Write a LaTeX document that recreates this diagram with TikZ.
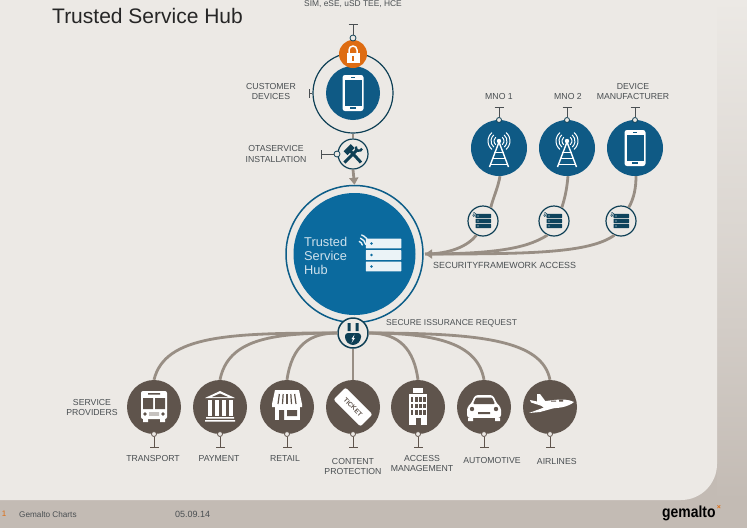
\documentclass[tikz,border=0pt]{standalone}
\usepackage{fontspec}
\setmainfont{Liberation Sans}
\usetikzlibrary{arrows.meta}

\definecolor{panelgrey}{HTML}{ECE9E5}
\definecolor{footgrey}{HTML}{C3BBB4}
\definecolor{darkblue}{HTML}{0F5A85}
\definecolor{hubblue}{HTML}{0B6A9E}
\definecolor{ringblue}{HTML}{0E3F55}
\definecolor{linkgrey}{HTML}{988E84}
\definecolor{brownish}{HTML}{5F544C}
\definecolor{lockorange}{HTML}{DE6C12}
\definecolor{labelgrey}{HTML}{4A4F52}

\tikzset{
  disc/.style={circle,inner sep=0,minimum size=#1},
  ringnode/.style={disc=#1,draw=ringblue,line width=1.2pt,fill=panelgrey},
  pinnode/.style={disc=6pt,draw=ringblue,line width=0.8pt,fill=panelgrey},
  tick/.style={draw=labelgrey,line width=0.8pt,{Bar[width=9pt,line width=0.8pt]}-},
  link/.style={draw=linkgrey,line width=2.8pt},
  label/.style={font=\fontsize{8.7}{10}\selectfont,text=labelgrey,align=center,inner sep=0},
}

\newcommand{\phoneicon}[2]{
  \begin{scope}[shift={(#1)}]
    \fill[white,rounded corners=2.5] (-10.5,-18) rectangle (10.5,18);
    \fill[#2] (-8.5,-13) rectangle (8.5,12.5);
    \fill[#2] (-3,14.2) rectangle (3,16);
    \fill[#2] (-2,-16) rectangle (2,-15);
  \end{scope}
}
\newcommand{\towericon}[1]{
  \begin{scope}[shift={(#1)},white,line width=1pt]
    \fill (0,-7) circle (2.2);
    \draw[line width=1.4pt] (9.5,19) -- (0,-6) -- (-9.5,19);
    \draw (-5,4) -- (5,4) (-6.5,10) -- (6.5,10) (-9,16) -- (9,16);
    \foreach \r in {5,8,11}
    {
      \draw (0,-7) ++(-50:\r) arc[start angle=-50,end angle=50,radius=\r];
      \draw (0,-7) ++(130:\r) arc[start angle=130,end angle=230,radius=\r];
    }
  \end{scope}
}
\newcommand{\servericon}[4]{
  \begin{scope}[shift={(#1)},scale=#2]
    \foreach \y in {-5,0,5}
    {
      \fill[#3,rounded corners=0.5] (-7.5,\y-2.1) rectangle (8,\y+2.1);
      \fill[#4] (-5,\y) circle (0.6);
    }
    \foreach \r in {2,3.5,5}
      \draw[#3,line width=0.6pt*#2,line cap=round] (-11,-4) ++(-70:\r) arc[start angle=-70,end angle=-10,radius=\r];
  \end{scope}
}

\begin{document}
\begin{tikzpicture}[x=1pt,y=-1pt]
  \useasboundingbox (0,0) rectangle (747,528);

  % page behind the panel
  \fill[footgrey] (0,0) rectangle (747,528);
  \shade[top color=panelgrey,bottom color=footgrey,middle color=footgrey!45!panelgrey] (717,0) rectangle (747,500);
  \fill[panelgrey] (0,0) -- (717,0) [rounded corners=36] -- (717,500) [sharp corners] -- (0,500) -- cycle;

  \node[font=\fontsize{21}{24}\selectfont,text=black!85,anchor=west,inner sep=0] (title) at (52,16) {Trusted Service Hub};

  % customer side
  \node[label,font=\fontsize{8.4}{10}\selectfont] (simlabel) at (353,4) {SIM, eSE, uSD TEE, HCE};
  \node[ringnode=80pt] (custring) at (353,93) {};
  \node[disc=54pt,fill=darkblue] (cust) at (353,93) {};
  \node[disc=28pt,fill=lockorange] (lock) at (353,54) {};
  \node[pinnode] (lockpin) at (353,38) {};
  \coordinate (locktop) at (353,24);
  \draw[tick] (locktop) -- (lockpin);
  \phoneicon{cust}{darkblue}
  \begin{scope}[shift={(lock)},white]
    \fill (-6.5,-1) rectangle (6.5,9);
    \draw[line width=1.5pt] (-4,-1) -- (-4,-4) arc[start angle=180,end angle=360,radius=4] -- (4,-1);
    \fill[lockorange] (-1.2,2) rectangle (1.2,6.5);
  \end{scope}
  \node[label] (custlabel) at (271,92) {CUSTOMER\\DEVICES};
  \coordinate (custtick) at (309,93);
  \draw[tick] (custtick) -- (custring.west);

  \node[ringnode=30pt] (ota) at (353,154) {};
  \node[pinnode] (otapin) at (337,154) {};
  \coordinate (otatick) at (321,154);
  \draw[tick] (otatick) -- (otapin);
  \node[label] (otalabel) at (276,154) {OTASERVICE\\INSTALLATION};
  \begin{scope}[shift={(ota)},ringblue]
    % hammer and wrench
    \draw[line width=3pt] (8,8.5) -- (-3,-3.5);
    \fill[rotate around={45:(-3,-3.5)}] (-8,-7.5) rectangle (2,-2);
    \draw[line width=3pt] (-8.5,8.5) -- (4.5,-4.5);
    \draw[line width=2.4pt] (3,-7.5) arc[start angle=200,end angle=20,radius=3.2];
  \end{scope}

  % hub
  \node[ringnode=137pt,draw=hubblue!70!ringblue,line width=1.5pt] (hubring) at (354.5,254) {};
  \node[disc=122pt,fill=hubblue] (hub) at (354.5,254) {};
  \node[font=\fontsize{12.8}{14}\selectfont,text=white!80!hubblue,align=left,anchor=west,inner sep=0] (hublabel) at (304,256) {Trusted\\Service\\Hub};
  \servericon{383,255}{2.3}{white!92!hubblue}{hubblue}
  \node[ringnode=30pt,line width=1.5pt] (plug) at (353,333) {};
  \node[label,font=\fontsize{8.5}{10}\selectfont,anchor=west] (securelabel) at (386,323) {SECURE ISSURANCE REQUEST};
  \begin{scope}[shift={(plug)},ringblue]
    \fill (-5.5,-10) rectangle (-2.5,-2) (2.5,-10) rectangle (5.5,-2);
    \fill[rounded corners=3] (-8,0) -- (8,0) -- (8,7) -- (3,12) -- (-3,12) -- (-8,7) -- cycle;
    \fill[white] (1.5,1.5) -- (-1.5,6) -- (0,6) -- (-1.5,10) -- (2,5) -- (0.5,5) -- cycle;
  \end{scope}
  \draw[link,-{Triangle[length=7pt,width=9pt]}] (ota.south) -- (hubring.north);
  \draw[link] (custring.south) -- (ota.north);

  % operators
  \foreach \x/\lx/\nm/\txt/\ly in {
      499/499/mnoa/{MNO 1}/97,
      567/568/mnob/{MNO 2}/97,
      635/633/devm/{DEVICE\\MANUFACTURER}/92
    }
  {
    \node[disc=56pt,fill=darkblue] (\nm) at (\x,148) {};
    \node[pinnode,disc=5pt] (\nm pin) at (\x,120) {};
    \coordinate (\nm tick) at (\x,107);
    \draw[tick] (\nm tick) -- (\nm pin);
    \node[label] (\nm label) at (\lx,\ly) {\txt};
  }
  \towericon{mnoa}
  \towericon{mnob}
  \phoneicon{devm}{darkblue}
  \foreach \x/\nm in {483/srva,554/srvb,621/srvc}
  {
    \node[ringnode=30pt] (\nm) at (\x,221) {};
    \servericon{\nm}{1}{ringblue!85!darkblue}{white}
  }
  \coordinate (hubin) at (425,254);
  \draw[link] (mnoa.272) .. controls (498,188) and (493,198) .. (srva.60);
  \draw[link] (mnob.272) .. controls (567,188) and (565,198) .. (srvb.60);
  \draw[link] (devm.272) .. controls (636,188) and (634,198) .. (srvc.60);
  \draw[link] (srva.245) .. controls (468,246) and (450,254) .. (hubin);
  \draw[link] (srvb.245) .. controls (530,246) and (505,254) .. (hubin);
  \draw[link,-{Triangle[length=7pt,width=9pt]}] (srvc.245) .. controls (590,253) and (530,254) .. (hubin);
  \node[label,font=\fontsize{8.9}{10}\selectfont,anchor=west] (seclabel) at (433,265) {SECURITYFRAMEWORK ACCESS};

  % service providers
  \node[label] (provlabel) at (92,407) {SERVICE\\PROVIDERS};
  \foreach \x/\nm/\lx/\ly/\txt in {
      154/transport/153/458/TRANSPORT,
      220/payment/219/458/PAYMENT,
      287/retail/285/458/RETAIL,
      353/content/353/466/{CONTENT\\PROTECTION},
      418/access/422/463/{ACCESS\\MANAGEMENT},
      484/auto/492/460/AUTOMOTIVE,
      550/air/558/461/AIRLINES
    }
  {
    \node[disc=54pt,fill=brownish] (\nm) at (\x,407) {};
    \node[pinnode,disc=5pt,draw=brownish] (\nm pin) at (\x,434) {};
    \coordinate (\nm tick) at (\x,448);
    \draw[tick,draw=brownish] (\nm tick) -- (\nm pin);
    \node[label] (\nm label) at (\lx,\ly) {\txt};
  }
  \draw[link] (plug.west) .. controls (230,333) and (165,335) .. (transport.north);
  \draw[link] (plug.west) .. controls (270,333) and (228,340) .. (payment.north);
  \draw[link] (plug.west) .. controls (310,333) and (292,345) .. (retail.north);
  \draw[link] (plug.south) -- (content.north);
  \draw[link] (plug.east) .. controls (400,333) and (414,350) .. (access.north);
  \draw[link] (plug.east) .. controls (440,333) and (478,345) .. (auto.north);
  \draw[link] (plug.east) .. controls (480,333) and (542,340) .. (air.north);

  % bus
  \begin{scope}[shift={(transport)}]
    \fill[white,rounded corners=2] (-13,-16) rectangle (13,12);
    \fill[white] (-11,12) rectangle (-6,15) (6,12) rectangle (11,15);
    \fill[brownish] (-11,-9) rectangle (-1,2) (1,-9) rectangle (11,2) (-6,-14) rectangle (6,-12.5);
    \fill[brownish] (-9,7) circle (1.8) (9,7) circle (1.8) (-5,5.5) rectangle (5,6.3) (-5,7.5) rectangle (5,8.3);
  \end{scope}
  % bank
  \begin{scope}[shift={(payment)},white]
    \fill (0,-16) -- (15,-9) -- (-15,-9) -- cycle;
    \fill[brownish] (0,-13.5) -- (8,-10) -- (-8,-10) -- cycle;
    \foreach \x in {-12,-5,2,9}
      \fill (\x,-7) rectangle (\x+3.5,9);
    \fill (-14,10) rectangle (14,11.5) (-15,13) rectangle (15,14.5);
  \end{scope}
  % shop
  \begin{scope}[shift={(retail)},white]
    \fill (-12,-17) -- (12,-17) -- (15,-3) -- (15,0) -- (-15,0) -- (-15,-3) -- cycle;
    \foreach \x in {-9,-4.5,0,4.5,9}
      \draw[brownish,line width=1.2pt] (\x*0.85,-13) -- (\x,-3);
    \fill (-12.5,0) rectangle (12.5,13);
    \fill[brownish] (-8,3) rectangle (-3,13) (0,3) rectangle (10,9);
  \end{scope}
  % ticket
  \node[fill=white,rounded corners=2,rotate=-45,minimum width=38pt,minimum height=17pt,inner sep=0,text=brownish,font=\fontsize{6.5}{7}\bfseries\selectfont] (ticket) at (content) {TICKET};
  % building
  \begin{scope}[shift={(access)},white]
    \fill (-5,-19) rectangle (5,-14);
    \fill (-9,-13) rectangle (9,18);
    \foreach \x in {-7.5,-3.3,0.9,5.1}
      \foreach \y in {-10,-3.5,3}
        \fill[brownish] (\x,\y) rectangle (\x+2.8,\y+4.5);
    \fill[brownish] (-2.5,11) rectangle (2.5,18);
  \end{scope}
  % car
  \begin{scope}[shift={(auto)},white]
    \fill[rounded corners=3] (-9,-12) -- (9,-12) -- (13,-3) -- (17,0) -- (17,11) -- (-17,11) -- (-17,0) -- (-13,-3) -- cycle;
    \fill[brownish,rounded corners=1] (-8,-9.5) -- (8,-9.5) -- (11,-3) -- (-11,-3) -- cycle;
    \fill[brownish] (-12,2) circle (2.2) (12,2) circle (2.2) (-6,5) rectangle (6,7);
    \fill[brownish] (-17,11) rectangle (17,13);
    \fill (-16,11) rectangle (-11,14) (11,11) rectangle (16,14);
  \end{scope}
  % plane
  \begin{scope}[shift={(air)},white]
    \fill (-13,-5) .. controls (0,-6) and (14,-10) .. (24,-5) .. controls (18,0) and (8,2) .. (-6,1) -- cycle;
    \fill (-2,-1) -- (8,0) -- (-10,5) -- (-21,6) -- cycle;
    \fill (-13,-5) -- (-13,-13) -- (-10,-13) -- (-4,-5) -- cycle;
    \fill (-6,-4) -- (-20,-7) -- (-19,-4.5) -- (-8,-1) -- cycle;
    \fill[brownish] (9,-7.5) rectangle (13,-5.5) (1,-6.5) rectangle (6,-5.5);
  \end{scope}

  % footer
  \node[font=\fontsize{8}{9}\selectfont,text=lockorange,inner sep=0] (pagenr) at (4,514) {1};
  \node[font=\fontsize{8.2}{9}\selectfont,text=labelgrey,anchor=west,inner sep=0] (footname) at (19,515) {Gemalto Charts};
  \node[font=\fontsize{9}{10}\selectfont,text=labelgrey,anchor=west,inner sep=0] (footdate) at (175,514) {05.09.14};
  \node[xscale=.87,font=\fontsize{16}{18}\bfseries\selectfont,text=black,anchor=west,inner sep=0] (logo) at (662,513) {gemalto};
  \node[font=\fontsize{7}{8}\bfseries\selectfont,text=lockorange,inner sep=0] (logox) at (719,507) {×};
\end{tikzpicture}
\end{document}
